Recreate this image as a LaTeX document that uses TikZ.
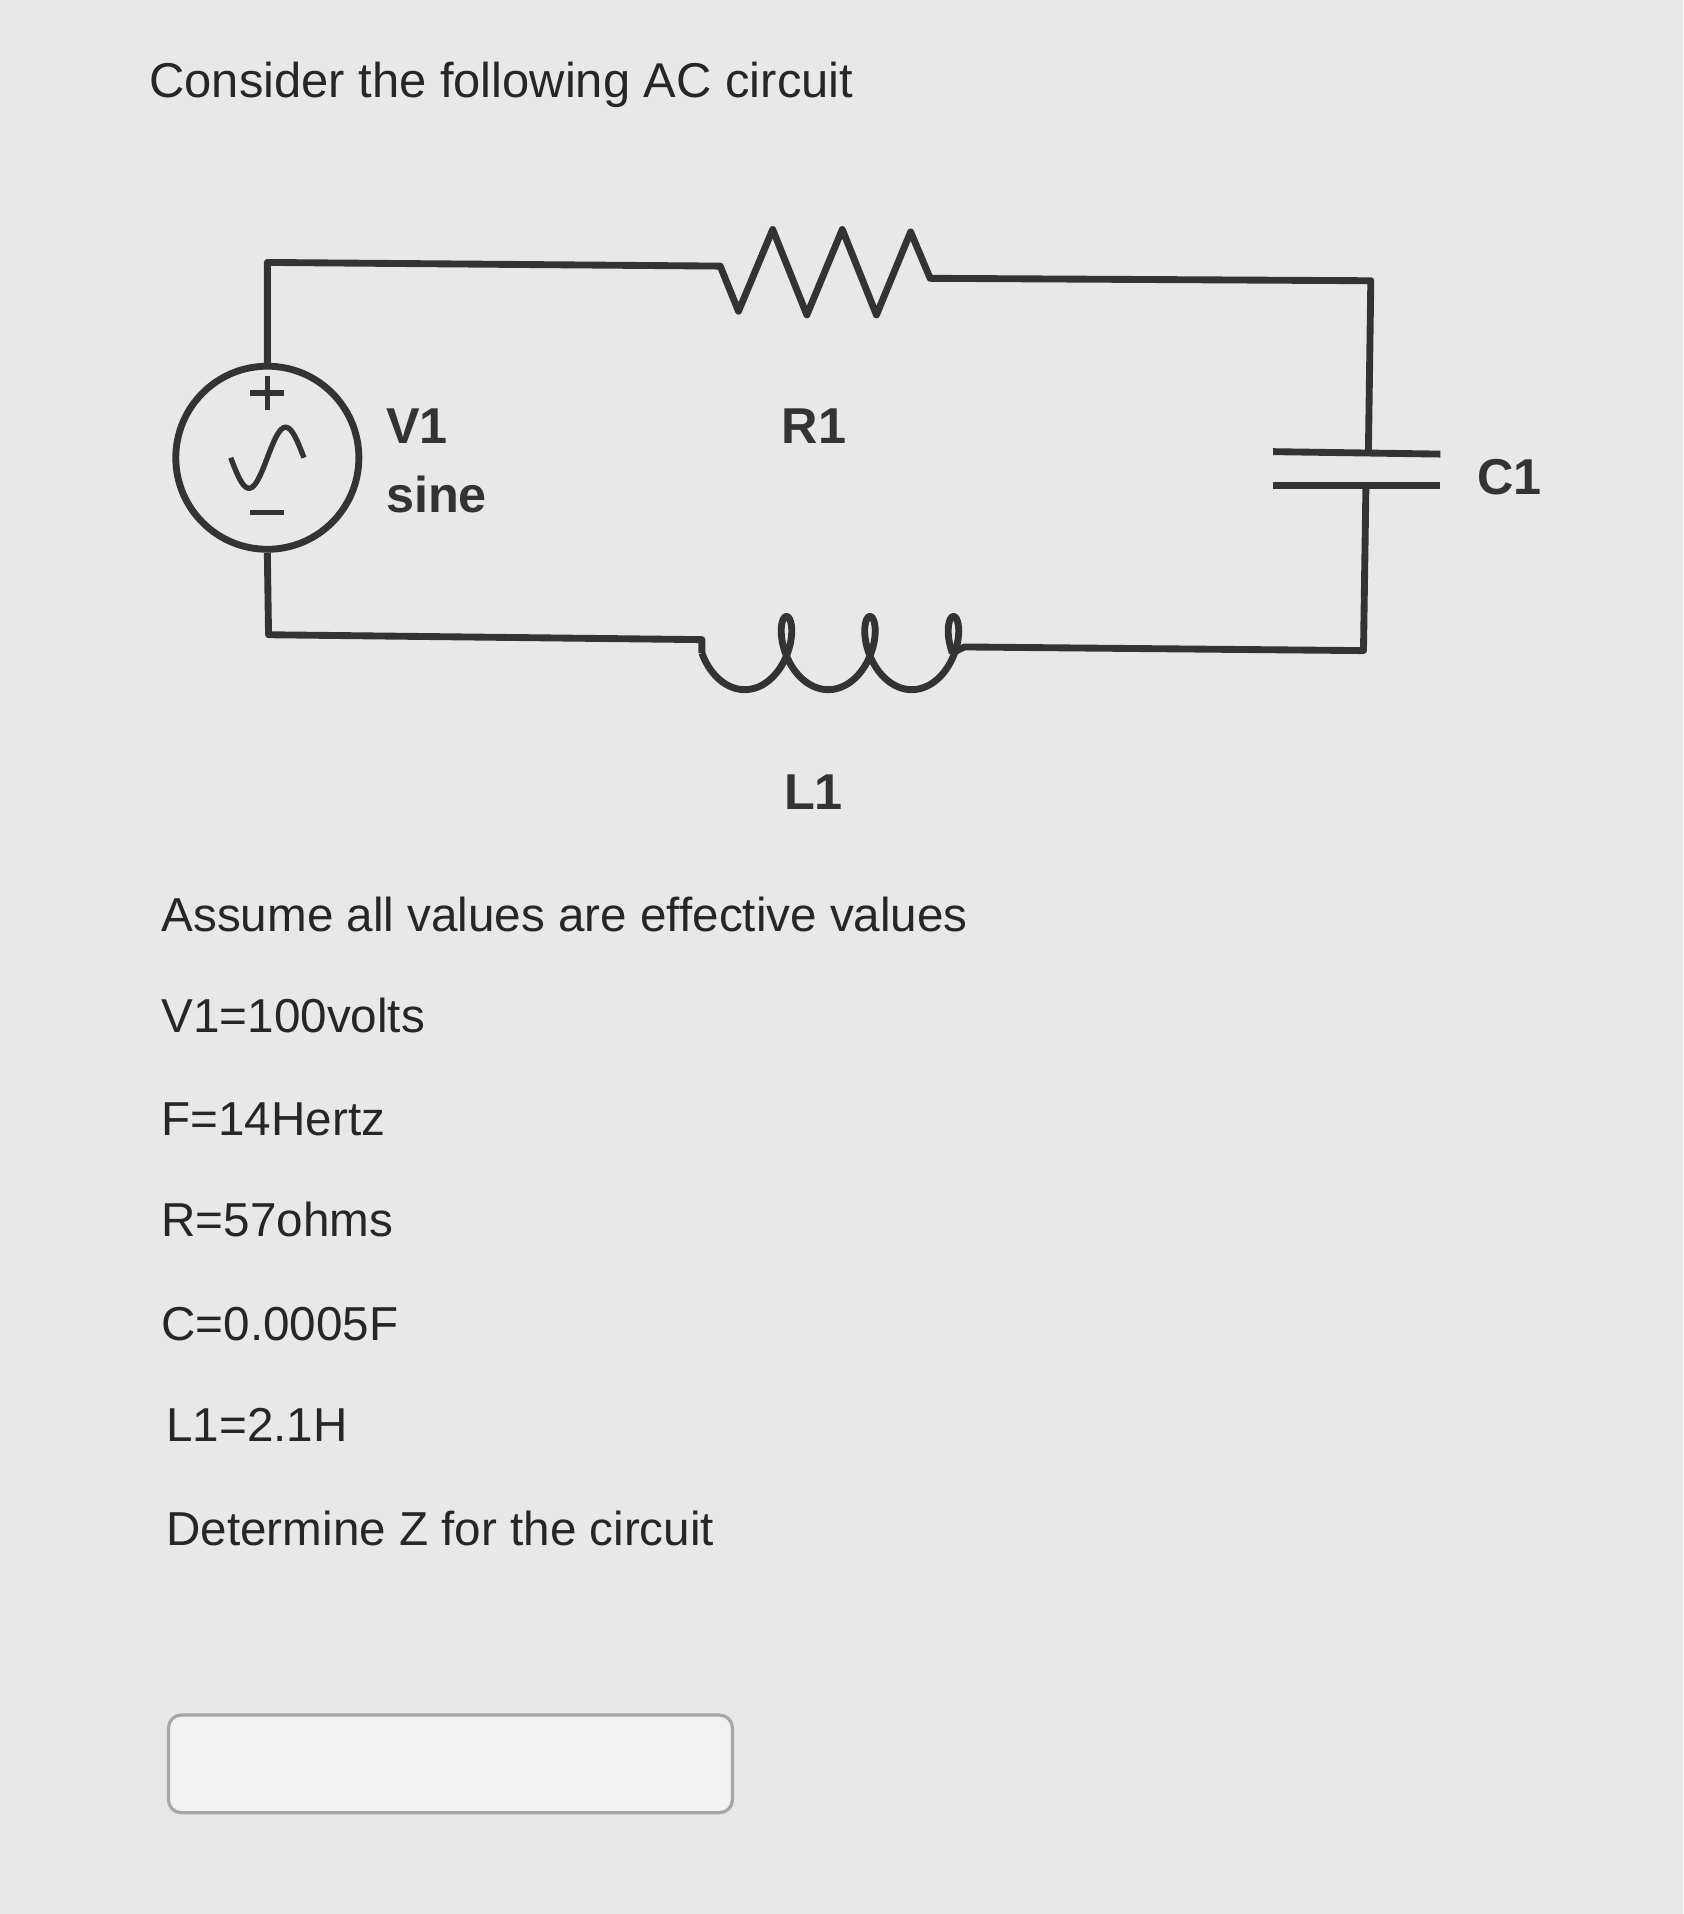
\documentclass[tikz,border=0pt]{standalone}
\usepackage{fontspec}
\setmainfont{Liberation Sans}
\begin{document}
\begin{tikzpicture}[x=0.02cm,y=-0.02cm,
  wire/.style={line width=3.2pt,color=black!80,line join=round},
  txt/.style={anchor=base west,inner sep=0pt,font=\fontsize{22.2}{25}\selectfont,text=black!85},
  lbl/.style={anchor=base west,inner sep=0pt,font=\fontsize{23.5}{26}\selectfont\bfseries,text=black!80}]
\fill[black!9] (0,0) rectangle (1379,1568);
\useasboundingbox (0,0) rectangle (1379,1568);
\node[txt,font=\fontsize{22.8}{26}\selectfont] (title) at (122,80) {Consider the following AC circuit};
% source
\node[circle,draw=black!80,line width=3.2pt,minimum size=150*0.02cm] (src) at (219,375) {};
\draw[wire,line width=2.5pt] plot[domain=-180:180,samples=40] ({219+\x/180*30},{375-25*sin(\x)});
\draw[wire,line width=2.5pt] (205,322)--(233,322) (219,308)--(219,336) (205,420)--(233,420);
% wires
\coordinate (a) at (219,215);
\coordinate (r1) at (590,218);
\coordinate (r2) at (762,228);
\coordinate (b) at (1123,230);
\coordinate (c1) at (1121,372);
\coordinate (c2) at (1119,398);
\coordinate (d) at (1117,533);
\coordinate (l2) at (790,530);
\coordinate (l1) at (575,524);
\coordinate (e) at (220,520);
\draw[wire] (src.north)--(a)--(r1)--(605,255)--(633,188)--(661,258)--(690,188)--(718,258)--(746,190)--(r2)--(b)--(c1);
\draw[wire] (1043,370)--(1180,372);
\draw[wire] (1043,398)--(1180,398);
\draw[wire] (c2)--(d)--(l2) -- (780,535);
\draw[wire] plot[domain=90:1170,samples=240] ({575+0.19*(\x-90)-18*sin(\x)+18},{535-30*cos(\x)});
\draw[wire] (575,535) -- (l1) -- (e) -- (src.south);
% labels
\node[lbl] (v1) at (316,363) {V1};
\node[lbl] (sine) at (316,420) {sine};
\node[lbl] (R1) at (640,363) {R1};
\node[lbl] (C1) at (1210,405) {C1};
\node[lbl] (L1) at (642,663) {L1};
% text
\node[txt] (t1) at (132,763) {Assume all values are effective values};
\node[txt] (t2) at (132,846) {V1=100volts};
\node[txt] (t3) at (132,930) {F=14Hertz};
\node[txt] (t4) at (132,1013) {R=57ohms};
\node[txt] (t5) at (132,1098) {C=0.0005F};
\node[txt] (t6) at (136,1181) {L1=2.1H};
\node[txt] (t7) at (136,1266) {Determine Z for the circuit};
\node[draw=black!35,fill=black!5,line width=1.5pt,rounded corners=6pt,minimum width=462*0.02cm,minimum height=80*0.02cm] (box) at (369,1445) {};
\end{tikzpicture}
\end{document}
